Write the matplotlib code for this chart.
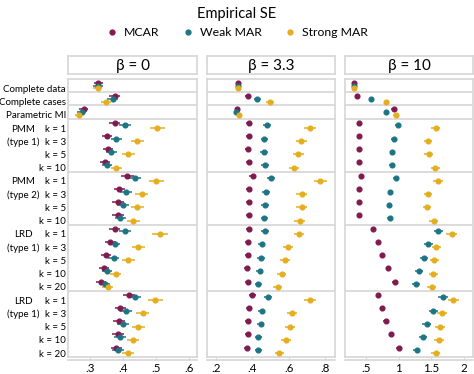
import matplotlib
matplotlib.use('Agg')
import matplotlib.pyplot as plt
from matplotlib.lines import Line2D
import matplotlib.transforms as mtransforms
import numpy as np

plt.rcParams['font.family'] = ['Lato', 'DejaVu Sans']

# row labels (prefix, k part)
row_prefix = ['Complete data', 'Complete cases', 'Parametric MI',
              'PMM', '(type 1)', '', '',
              'PMM', '(type 2)', '', '',
              'LRD', '(type 1)', '', '', '',
              'LRD', '(type 1)', '', '', '']
row_k = ['', '', '',
         'k = 1', 'k = 3', 'k = 5', 'k = 10',
         'k = 1', 'k = 3', 'k = 5', 'k = 10',
         'k = 1', 'k = 3', 'k = 5', 'k = 10', 'k = 20',
         'k = 1', 'k = 3', 'k = 5', 'k = 10', 'k = 20']
group_breaks = [0.5, 1.5, 2.5, 6.5, 10.5, 15.5]

panel_titles = ['β = 0', 'β = 3.3', 'β = 10']
series_names = ['MCAR', 'Weak MAR', 'Strong MAR']

# empirical SE, beta = 0
b0_mcar = [0.325, 0.374, 0.280, 0.374, 0.351, 0.354, 0.346, 0.413, 0.389, 0.384, 0.384,
           0.374, 0.361, 0.349, 0.343, 0.334, 0.418, 0.392, 0.387, 0.384, 0.380]
b0_weak = [0.324, 0.369, 0.274, 0.407, 0.380, 0.364, 0.351, 0.435, 0.410, 0.399, 0.392,
           0.405, 0.375, 0.372, 0.351, 0.346, 0.435, 0.410, 0.399, 0.390, 0.384]
b0_strong = [0.323, 0.349, 0.266, 0.503, 0.443, 0.416, 0.380, 0.500, 0.456, 0.443, 0.431,
             0.512, 0.446, 0.416, 0.377, 0.353, 0.498, 0.459, 0.446, 0.430, 0.415]

# beta = 3.3
b33_mcar = [0.323, 0.374, 0.317, 0.383, 0.382, 0.378, 0.382, 0.402, 0.383, 0.380, 0.380,
            0.383, 0.378, 0.374, 0.372, 0.374, 0.400, 0.380, 0.374, 0.374, 0.372]
b33_weak = [0.323, 0.428, 0.310, 0.479, 0.466, 0.464, 0.470, 0.503, 0.475, 0.470, 0.466,
            0.470, 0.451, 0.448, 0.440, 0.433, 0.484, 0.451, 0.446, 0.433, 0.433]
b33_strong = [0.323, 0.497, 0.328, 0.717, 0.668, 0.653, 0.628, 0.774, 0.672, 0.672, 0.660,
              0.657, 0.598, 0.580, 0.561, 0.539, 0.717, 0.620, 0.607, 0.585, 0.547]

# beta = 10
b10_mcar = [0.318, 0.369, 0.929, 0.400, 0.400, 0.400, 0.400, 0.420, 0.400, 0.400, 0.400,
            0.611, 0.687, 0.747, 0.838, 0.939, 0.687, 0.747, 0.803, 0.889, 1.000]
b10_weak = [0.318, 0.571, 0.813, 0.995, 0.929, 0.904, 0.899, 0.955, 0.874, 0.854, 0.864,
            1.611, 1.455, 1.394, 1.318, 1.268, 1.682, 1.530, 1.429, 1.369, 1.278]
b10_strong = [0.320, 0.813, 0.965, 1.571, 1.449, 1.460, 1.561, 1.601, 1.449, 1.439, 1.540,
              1.813, 1.581, 1.545, 1.530, 1.510, 1.838, 1.662, 1.636, 1.621, 1.571]

# half width of the Monte Carlo interval, relative to the SE
CI_REL = 0.045

panel_data = [[b0_mcar, b0_weak, b0_strong],
              [b33_mcar, b33_weak, b33_strong],
              [b10_mcar, b10_weak, b10_strong]]
panel_xlim = [(0.233, 0.624), (0.15, 0.855), (0.18, 2.14)]
panel_ticks = [[0.3, 0.4, 0.5, 0.6], [0.2, 0.4, 0.6, 0.8], [0.5, 1, 1.5, 2]]
panel_ticklabels = [['.3', '.4', '.5', '.6'], ['.2', '.4', '.6', '.8'], ['.5', '1', '1.5', '2']]

colors = ['#801b50', '#1c7585', '#e6ad1e']
offsets = [-0.2, 0.0, 0.2]
frame_col = '#d6d6d6'

W, H = 474, 374
fig = plt.figure(figsize=(W / 100, H / 100), dpi=100)
fig.patch.set_facecolor('white')

col_x = [(68, 197), (207, 335), (345, 473)]
top_px, bot_px = 79, 357
n_rows = len(row_k)
lab_fs = 7.0


def fx(px):
    return px / W


def fy(py):
    return 1 - py / H


axes = []
for i, (x0, x1) in enumerate(col_x):
    ax = fig.add_axes([fx(x0), fy(bot_px), fx(x1 - x0), fy(top_px) - fy(bot_px)])
    axes.append(ax)
    for j in range(3):
        vals = np.array(panel_data[i][j])
        ys = np.arange(n_rows) + offsets[j]
        ax.errorbar(vals, ys, xerr=CI_REL * vals, fmt='o', color=colors[j],
                    markersize=3.4, elinewidth=1.1, capsize=0, zorder=3)
    for yb in group_breaks:
        ax.axhline(yb, color=frame_col, lw=1.2, zorder=1)
    ax.set_ylim(n_rows - 0.5, -0.5)
    ax.set_xlim(*panel_xlim[i])
    ax.set_yticks([])
    ax.set_xticks(panel_ticks[i])
    ax.set_xticklabels(panel_ticklabels[i], fontsize=8.3)
    ax.tick_params(axis='x', length=2, color=frame_col, pad=2.5)
    for s in ax.spines.values():
        s.set_color(frame_col)
        s.set_linewidth(1.2)
    # axis line below the frame
    fig.add_artist(Line2D([fx(x0), fx(x1)], [fy(360), fy(360)], color=frame_col, lw=1.2))

    # strip header
    hax = fig.add_axes([fx(x0), fy(74), fx(x1 - x0), fy(56) - fy(74)])
    hax.set_xticks([])
    hax.set_yticks([])
    for s in hax.spines.values():
        s.set_color(frame_col)
        s.set_linewidth(1.2)
    hax.text(0.5, 0.45, panel_titles[i], ha='center', va='center', fontsize=11,
             transform=hax.transAxes)

# row labels on the left
trans = mtransforms.blended_transform_factory(fig.transFigure, axes[0].transData)
for r in range(n_rows):
    if row_k[r] == '':
        fig.text(fx(66), 0, row_prefix[r], ha='right', va='center', fontsize=lab_fs,
                 transform=trans).set_y(r + 0.28)
    else:
        fig.text(fx(66), 0, row_k[r], ha='right', va='center', fontsize=lab_fs,
                 transform=trans).set_y(r + 0.28)
        if row_prefix[r]:
            fig.text(fx(23), 0, row_prefix[r], ha='center', va='center', fontsize=lab_fs,
                     transform=trans).set_y(r + 0.28)

fig.text(0.5, fy(14), 'Empirical SE', ha='center', va='center', fontsize=10.5)

handles = [Line2D([], [], marker='o', ls='', color=c, markersize=3.5) for c in colors]
fig.legend(handles, series_names, loc='center', bbox_to_anchor=(0.5, fy(33)), ncol=3,
           frameon=False, fontsize=8.8, handletextpad=0.5, columnspacing=1.8,
           handlelength=1.0)

fig.savefig('out.png', dpi=100)
